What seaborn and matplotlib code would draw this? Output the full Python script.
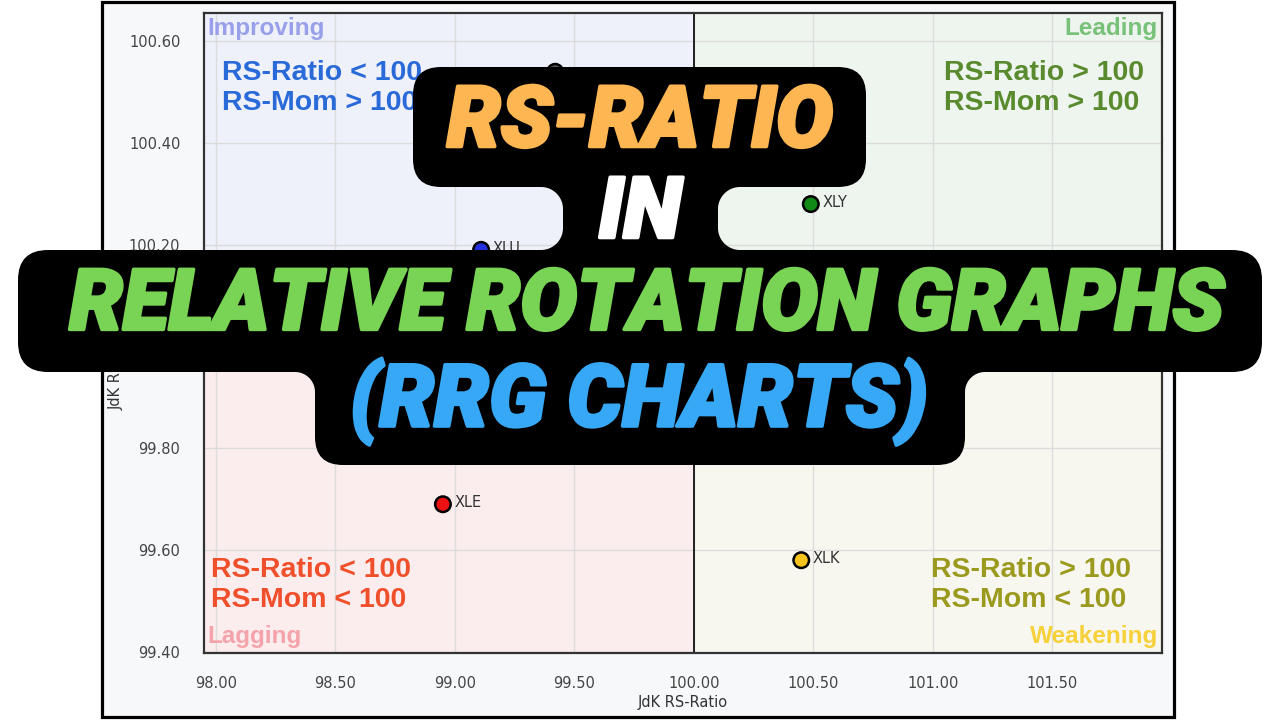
import numpy as np
import pandas as pd
import matplotlib
matplotlib.use("Agg")
import matplotlib.pyplot as plt
import seaborn as sns
from matplotlib import font_manager
from matplotlib.patches import FancyBboxPatch, Rectangle, Polygon
import matplotlib.patheffects as pe

# ---------------- data ----------------
tickers = ["XLU", "XLY", "XLE", "XLK", "XLV"]
rs_ratio = [99.11, 100.49, 98.95, 100.45, 99.42]
rs_mom = [100.19, 100.28, 99.69, 99.58, 100.54]
point_colors = ["#2430e0", "#128a16", "#ee1111", "#f6c21c", "#555555"]
show_label = [True, True, True, True, False]

x_ticks = [98.0, 98.5, 99.0, 99.5, 100.0, 100.5, 101.0, 101.5]
y_ticks = [99.4, 99.6, 99.8, 100.0, 100.2, 100.4, 100.6]
x_label = "JdK RS-Ratio"
y_label = "JdK RS-Momentum"

quadrant_names = ["Improving", "Leading", "Lagging", "Weakening"]
quadrant_rules = ["RS-Ratio < 100\nRS-Mom > 100",
                  "RS-Ratio > 100\nRS-Mom > 100",
                  "RS-Ratio < 100\nRS-Mom < 100",
                  "RS-Ratio > 100\nRS-Mom < 100"]
banner_lines = ["RS-RATIO", "IN", "RELATIVE ROTATION GRAPHS", "(RRG CHARTS)"]

# ---------------- style ----------------
sns.set_style("white")
plt.rcParams["font.family"] = ["Liberation Sans", "DejaVu Sans"]

avail = {f.name for f in font_manager.fontManager.ttflist}
banner_family = "Liberation Sans Narrow" if "Liberation Sans Narrow" in avail else "Roboto"
banner_weight = "bold" if banner_family == "Liberation Sans Narrow" else "black"

W, H = 1280, 720
fig = plt.figure(figsize=(12.8, 7.2), dpi=100, facecolor="white")

def pixel_axes(z):
    a = fig.add_axes([0, 0, 1, 1], zorder=z)
    a.set_xlim(0, W)
    a.set_ylim(H, 0)
    a.axis("off")
    return a

bg = pixel_axes(0)
bg.add_patch(Rectangle((102, 2), 1072, 715, facecolor="#f6f8fa",
                       edgecolor="black", linewidth=2.3))

# chart axes
L, R, T, B = 204, 1162, 13.3, 653.3
ax = fig.add_axes([L / W, 1 - B / H, (R - L) / W, (B - T) / H], zorder=1)
xlo, xhi = 97.95, 101.96
ylo, yhi = 99.397, 100.655
ax.set_xlim(xlo, xhi)
ax.set_ylim(ylo, yhi)
ax.set_facecolor("none")

# quadrant backgrounds
ax.fill_between([xlo, 100], 100, yhi, color="#eef0fa", lw=0, zorder=0)
ax.fill_between([100, xhi], 100, yhi, color="#eef4ee", lw=0, zorder=0)
ax.fill_between([xlo, 100], ylo, 100, color="#fbeded", lw=0, zorder=0)
ax.fill_between([100, xhi], ylo, 100, color="#f8f7ef", lw=0, zorder=0)

ax.set_axisbelow(True)
ax.grid(True, color="#dcdcdc", lw=1.0)
ax.set_xticks(x_ticks)
ax.set_yticks(y_ticks)
ax.set_xticklabels([f"{v:.2f}" for v in x_ticks], family="DejaVu Sans")
ax.set_yticklabels([f"{v:.2f}" for v in y_ticks], family="DejaVu Sans")
ax.tick_params(axis="x", length=0, pad=16.5, labelsize=10.5, labelcolor="#444444")
ax.tick_params(axis="y", length=0, pad=17, labelsize=10.5, labelcolor="#444444")
for s in ax.spines.values():
    s.set_color("#333333")
    s.set_linewidth(1.6)

ax.axvline(100, color="black", lw=1.2, zorder=2)
ax.axhline(100, color="black", lw=1.2, zorder=2)

df = pd.DataFrame({"ticker": tickers, "rs_ratio": rs_ratio, "rs_mom": rs_mom})
sns.scatterplot(data=df, x="rs_ratio", y="rs_mom", hue="ticker",
                palette=dict(zip(tickers, point_colors)), s=125,
                edgecolor="black", linewidth=1.8, legend=False, ax=ax, zorder=3)
for t, xv, yv, show in zip(tickers, rs_ratio, rs_mom, show_label):
    if show:
        ax.annotate(t, (xv, yv), xytext=(8.5, 1), textcoords="offset points",
                    va="center", ha="left", fontsize=10.5, color="#333333",
                    family="DejaVu Sans", zorder=4)

ax.set_xlabel(x_label, fontsize=10.5, color="#333333", family="DejaVu Sans")
ax.set_ylabel(y_label, fontsize=10.5, color="#333333", family="DejaVu Sans")
ax.xaxis.set_label_coords(0.5, (B - 703) / (B - T))
ax.xaxis.label.set_va("center")
ax.yaxis.set_label_coords((124 - L) / (R - L), (B - 410) / (B - T))
ax.yaxis.label.set_ha("left")

# ---------------- overlay (pixel coordinates) ----------------
pix = pixel_axes(5)

qn_colors = ["#99a0ea", "#78c178", "#f4a3ab", "#f6d13a"]
qn_pos = [(207, 29, "left"), (1158, 29, "right"), (207, 637, "left"), (1158, 637, "right")]
for name, c, (px, py, ha) in zip(quadrant_names, qn_colors, qn_pos):
    pix.text(px, py, name, ha=ha, va="center", fontsize=17.5, fontweight="bold",
             color=c, zorder=1)

rule_colors = ["#2a6ad8", "#5a8a2e", "#f04f2c", "#9b9a1f"]
rule_pos = [(222, 88), (944, 88), (211, 585), (931, 585)]
for txt, c, (px, py) in zip(quadrant_rules, rule_colors, rule_pos):
    pix.text(px, py, txt, ha="left", va="center", fontsize=20.5, fontweight="bold",
             color=c, linespacing=1.2, zorder=1)

# banner shapes
BLACK = "#000000"
def rbox(x0, y0, x1, y1, r):
    pix.add_patch(FancyBboxPatch((x0, y0), x1 - x0, y1 - y0,
                                 boxstyle=f"round,pad=0,rounding_size={r}",
                                 facecolor=BLACK, edgecolor="none", zorder=10))

def fillet(cx, cy, sx, sy, r):
    ox, oy = cx + sx * r, cy + sy * r
    a1 = np.arctan2(-sy, 0.0)
    a2 = np.arctan2(0.0, -sx)
    d = (a2 - a1 + np.pi) % (2 * np.pi) - np.pi
    ang = a1 + d * np.linspace(0, 1, 30)
    arc = np.column_stack([ox + r * np.cos(ang), oy + r * np.sin(ang)])
    pts = np.vstack([[cx, cy], arc])
    pix.add_patch(Polygon(pts, closed=True, facecolor=BLACK, edgecolor="none", zorder=10))

rbox(413, 67, 866, 187, 28)
rbox(18, 250, 1262, 372, 30)
rbox(315, 330, 965, 465, 28)
pix.add_patch(Rectangle((563, 170), 155, 100, facecolor=BLACK, edgecolor="none", zorder=10))
for cx, cy, sx, sy, r in [(563, 187, -1, 1, 22), (718, 187, 1, 1, 22),
                          (563, 250, -1, -1, 22), (718, 250, 1, -1, 22),
                          (315, 372, -1, 1, 20), (965, 372, 1, 1, 20)]:
    fillet(cx, cy, sx, sy, r)

banner_colors = ["#fdb652", "#ffffff", "#79d455", "#37a8f6"]
banner_centers = [(640, 116), (640, 207), (647, 299), (639, 395)]
banner_widths = [386, 84, 1155, 578]

renderer = fig.canvas.get_renderer()
texts = []
for line, c, (cx, cy) in zip(banner_lines, banner_colors, banner_centers):
    t = pix.text(cx, cy, line, ha="center", va="baseline", fontsize=60,
                 family=banner_family, fontweight=banner_weight, style="italic",
                 color=c, zorder=11,
                 path_effects=[pe.withStroke(linewidth=2.5, foreground=c)])
    texts.append(t)

sizes = []
for t, w in zip(texts, banner_widths):
    bb = t.get_window_extent(renderer)
    sizes.append(t.get_fontsize() * w / bb.width)
sizes[1] = sizes[0]
for t, fs, (cx, cy) in zip(texts, sizes, banner_centers):
    t.set_fontsize(fs)
    t.set_position((cx, cy + 0.36 * fs * 100 / 72))

fig.savefig("out.png", dpi=100, facecolor="white")
